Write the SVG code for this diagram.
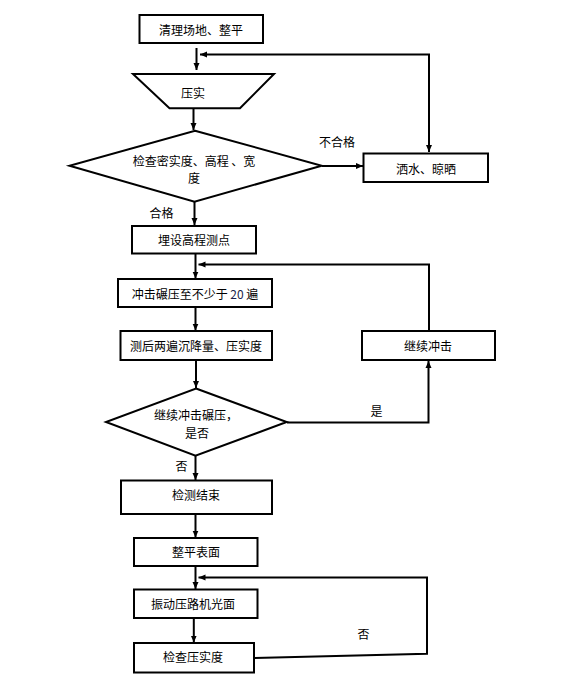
<svg xmlns="http://www.w3.org/2000/svg" width="575" height="696" viewBox="0 0 575 696">
<defs>
<marker id="ah" markerWidth="8" markerHeight="8" refX="7" refY="4" orient="auto-start-reverse" markerUnits="userSpaceOnUse">
<path d="M0,1 L7,4 L0,7 Z" fill="#000"/>
</marker>
<style>
.n{fill:#fff;stroke:#000;stroke-width:2}
.t{font-family:"Noto Sans CJK SC","Liberation Sans",sans-serif;font-size:12px;fill:#000;text-anchor:middle;dominant-baseline:central}
.c{fill:none;stroke:#000;stroke-width:2}
.a{marker-end:url(#ah)}
.s{marker-start:url(#ah)}
</style>
</defs>
<rect width="575" height="696" fill="#fff"/>
<g id="connectors">
<path class="c a" d="M196.5,48 V70"/>
<path class="c a s" d="M429,152 V54.5 H200"/>
<path class="c a" d="M193.5,108.5 V130"/>
<path class="c a" d="M322,166 H363"/>
<path class="c a" d="M194.5,202 V225"/>
<path class="c a" d="M195.5,254 V278.5"/>
<path class="c a" d="M429,331 V264.5 H198.5"/>
<path class="c a" d="M195.5,307.5 V330.5"/>
<path class="c a" d="M196,360 V388"/>
<path class="c a" d="M287,422.5 H428.5 V361"/>
<path class="c a" d="M195.5,456 V480"/>
<path class="c a" d="M195.5,514 V537.5"/>
<path class="c a" d="M195.5,566 V589"/>
<path class="c a" d="M254.5,658 L427,653.7 V577.5 H198.5"/>
<path class="c a" d="M193.8,618 V642.5"/>
</g>
<g id="n1"><rect class="n" x="139.5" y="15" width="123.5" height="28"/><text class="t" x="201" y="29">清理场地、整平</text></g>
<g id="n2"><path class="n" d="M133,74 H274 L240,108.3 H169.5 Z"/><text class="t" x="193" y="92">压实</text></g>
<g id="n3"><path class="n" d="M195,130.7 L321.7,165.7 L194.5,201.7 L69.5,165.7 Z"/><text class="t" x="194" y="160">检查密实度、高程 、宽</text><text class="t" x="194" y="177">度</text></g>
<g id="n4"><rect class="n" x="363.5" y="153.5" width="124.5" height="28.5"/><text class="t" x="426" y="168">洒水、晾晒</text></g>
<g id="n5"><rect class="n" x="132" y="226" width="124" height="27.5"/><text class="t" x="194" y="239.5">埋设高程测点</text></g>
<g id="n6"><rect class="n" x="118" y="279" width="154" height="28"/><text class="t" x="195" y="293">冲击碾压至不少于 <tspan fill="#1a1f4a">20</tspan> 遍</text></g>
<g id="n7"><rect class="n" x="120.5" y="331" width="151.5" height="29"/><text class="t" x="196" y="345.5">测后两遍沉降量、压实度</text></g>
<g id="n8"><path class="n" d="M196,388.5 L286.7,422 L195.5,455.7 L106,422 Z"/><text class="t" x="196" y="414.5">继续冲击碾压，</text><text class="t" x="197" y="432">是否</text></g>
<g id="n9"><rect class="n" x="362" y="331" width="133" height="29"/><text class="t" x="428" y="345.5">继续冲击</text></g>
<g id="n10"><rect class="n" x="121" y="480.5" width="151" height="33.5"/><text class="t" x="196" y="494">检测结束</text></g>
<g id="n11"><rect class="n" x="134" y="538" width="123.5" height="28"/><text class="t" x="196" y="551.5">整平表面</text></g>
<g id="n12"><rect class="n" x="134" y="589.5" width="123.5" height="28.5"/><text class="t" x="193" y="603.5">振动压路机光面</text></g>
<g id="n13"><rect class="n" x="134" y="643" width="120" height="29.5"/><text class="t" x="193" y="656.5">检查压实度</text></g>
<g id="labels">
<text class="t" x="337" y="141.5">不合格</text>
<text class="t" x="161.5" y="212">合格</text>
<text class="t" x="376.5" y="410">是</text>
<text class="t" x="181.5" y="465.5">否</text>
<text class="t" x="363.5" y="633.5">否</text>
</g>
</svg>
